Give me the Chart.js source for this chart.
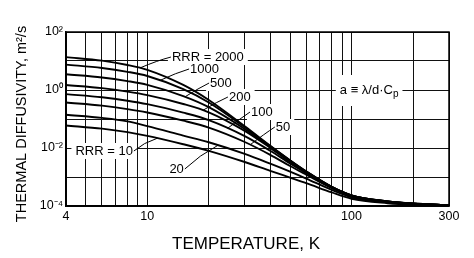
<!DOCTYPE html>
<html><head><meta charset="utf-8">
<script src="https://cdn.jsdelivr.net/npm/chart.js@4.4.1/dist/chart.umd.min.js"></script>
<style>html,body{margin:0;padding:0;background:#fff}#wrap{width:474px;height:258px}</style>
</head><body><div id="wrap"><canvas id="c" width="474" height="258"></canvas></div>
<script>
// Temperature, K
const temps = [4, 6, 8, 10, 15, 20, 30, 40, 50, 60, 80, 100, 150, 200, 300];
// Thermal diffusivity, m^2/s, one curve per RRR
const rrr2000 = [13.6, 10.3, 7.3, 4.98, 1.50, 0.454, 0.0562, 0.0120, 0.00378, 0.00156, 0.000458, 0.000232, 0.000145, 0.000122, 0.000107];
const rrr1000 = [7.5, 5.75, 4.23, 3.04, 1.068, 0.370, 0.0520, 0.01157, 0.00372, 0.00155, 0.000456, 0.000232, 0.000145, 0.000122, 0.000107];
const rrr500  = [3.5, 2.71, 2.03, 1.51, 0.618, 0.256, 0.0452, 0.0109, 0.00362, 0.00153, 0.000454, 0.000231, 0.000144, 0.000121, 0.000107];
const rrr200  = [1.49, 1.16, 0.879, 0.665, 0.329, 0.170, 0.0388, 0.0101, 0.00333, 0.00146, 0.000446, 0.000229, 0.000143, 0.000121, 0.000106];
const rrr100  = [0.72, 0.56, 0.426, 0.324, 0.166, 0.0918, 0.0258, 0.00803, 0.00295, 0.00136, 0.000434, 0.000226, 0.000142, 0.000120, 0.000106];
const rrr50   = [0.371, 0.289, 0.22, 0.168, 0.0878, 0.0504, 0.0161, 0.0058, 0.00239, 0.0012, 0.000412, 0.000219, 0.000140, 0.000119, 0.000105];
const rrr20   = [0.14, 0.109, 0.083, 0.0568, 0.0268, 0.0158, 0.00624, 0.00288, 0.00153, 0.000886, 0.000358, 0.000201, 0.000134, 0.000115, 0.000104];
const rrr10   = [0.06, 0.0465, 0.0353, 0.0262, 0.0135, 0.0080, 0.00329, 0.00163, 0.000955, 0.000616, 0.000293, 0.000178, 0.000125, 0.000110, 0.000102];
const seriesList = [rrr2000, rrr1000, rrr500, rrr200, rrr100, rrr50, rrr20, rrr10];
const seriesNames = ['RRR = 2000', '1000', '500', '200', '100', '50', '20', 'RRR = 10'];

// Axis ticks
const xTickValues = [4, 5, 6, 7, 8, 9, 10, 20, 30, 40, 50, 60, 70, 80, 90, 100, 200, 300];
const xTickLabels = ['4', '', '', '', '', '', '10', '', '', '', '', '', '', '', '', '100', '', '300'];
const yTickValues = [1e-4, 1e-3, 1e-2, 1e-1, 1, 10, 100];
const yTickLabels = ['10⁻⁴', '', '10⁻²', '', '10⁰', '', '10²'];

// Curve labels: anchor in data space, leader target temperature on its curve
const curveLabels = [
  {series: 0, t: 13.2, v: 13.7, align: 'left', to: 9.2},
  {series: 1, t: 16.2, v: 5.3, align: 'left', to: 11.5},
  {series: 2, t: 20.3, v: 1.74, align: 'left', to: 15.3},
  {series: 3, t: 25.1, v: 0.574, align: 'left', to: 18.7},
  {series: 4, t: 32.2, v: 0.174, align: 'left', to: 24.7},
  {series: 5, t: 42.6, v: 0.053, align: 'left', to: 31.9},
  {series: 6, t: 15.1, v: 0.00189, align: 'right', to: 22.2},
  {series: 7, t: 8.5, v: 0.00789, align: 'right', to: 11.2}
];
const formulaPos = {t: 87.6, v: 1.0};

const FONT = 'Arial, "Liberation Sans", Helvetica, sans-serif';

function valueAt(arr, T) {
  for (let i = 0; i < temps.length - 1; i++) {
    if (T >= temps[i] && T <= temps[i + 1]) {
      const f = Math.log(T / temps[i]) / Math.log(temps[i + 1] / temps[i]);
      return Math.exp(Math.log(arr[i]) + f * (Math.log(arr[i + 1]) - Math.log(arr[i])));
    }
  }
  return arr[arr.length - 1];
}

function labelGeom(ctx, xs, ys, L) {
  ctx.font = '13px ' + FONT;
  const text = seriesNames[L.series];
  const w = ctx.measureText(text).width;
  const px = xs.getPixelForValue(L.t);
  const py = ys.getPixelForValue(L.v);
  const left = L.align === 'left' ? px : px - w;
  return {text, w, px, py, left};
}

function formulaGeom(ctx, xs, ys) {
  const px = xs.getPixelForValue(formulaPos.t);
  const py = ys.getPixelForValue(formulaPos.v);
  ctx.font = '13px ' + FONT;
  const main = 'a ≡ λ/d·C';
  const w1 = ctx.measureText(main).width;
  ctx.font = '10px ' + FONT;
  const w2 = ctx.measureText('p').width;
  return {px, py, main, w1, w2};
}

const annot = {
  id: 'annot',
  beforeDatasetsDraw(chart) {
    const ctx = chart.ctx, xs = chart.scales.x, ys = chart.scales.y;
    ctx.save();
    ctx.fillStyle = '#fff';
    curveLabels.forEach(L => {
      const g = labelGeom(ctx, xs, ys, L);
      ctx.fillRect(g.left - 4, g.py - 8, g.w + 8, 16);
    });
    const f = formulaGeom(ctx, xs, ys);
    ctx.fillRect(f.px - 4, f.py - 15, f.w1 + f.w2 + 8, 31);
    ctx.restore();
  },
  afterDatasetsDraw(chart) {
    const ctx = chart.ctx, xs = chart.scales.x, ys = chart.scales.y;
    ctx.save();
    ctx.fillStyle = '#000';
    ctx.strokeStyle = '#000';
    ctx.lineWidth = 1;
    curveLabels.forEach(L => {
      const g = labelGeom(ctx, xs, ys, L);
      ctx.textBaseline = 'middle';
      ctx.textAlign = 'left';
      ctx.fillText(g.text, g.left, g.py);
      const sx = L.align === 'left' ? g.left - 1 : g.left + g.w + 1;
      const tx = xs.getPixelForValue(L.to);
      const ty = ys.getPixelForValue(valueAt(seriesList[L.series], L.to));
      ctx.beginPath();
      ctx.moveTo(sx, g.py);
      ctx.quadraticCurveTo((sx + tx) / 2 + (L.align === 'left' ? 2 : -2), (g.py + ty) / 2 - 2, tx, ty);
      ctx.stroke();
    });
    // formula
    const f = formulaGeom(ctx, xs, ys);
    ctx.textBaseline = 'middle';
    ctx.textAlign = 'left';
    ctx.font = '13px ' + FONT;
    ctx.fillText(f.main, f.px, f.py);
    ctx.font = '10px ' + FONT;
    ctx.fillText('p', f.px + f.w1, f.py + 4);
    // axis titles
    const ca = chart.chartArea;
    ctx.font = '17px ' + FONT;
    ctx.textAlign = 'center';
    ctx.textBaseline = 'middle';
    ctx.fillText('TEMPERATURE, K', ca.left + (ca.right - ca.left) * 0.47, 244);
    ctx.save();
    ctx.translate(22, (ca.top + ca.bottom) / 2 + 5);
    ctx.rotate(-Math.PI / 2);
    ctx.font = '14.5px ' + FONT;
    ctx.fillText('THERMAL DIFFUSIVITY, m²/s', 0, 0);
    ctx.restore();
    // frame
    ctx.lineWidth = 1.5;
    ctx.strokeRect(ca.left, ca.top, ca.right - ca.left, ca.bottom - ca.top);
    ctx.restore();
  }
};

const datasets = seriesList.map((arr, i) => ({
  label: seriesNames[i],
  data: temps.map((t, j) => ({x: t, y: arr[j]})),
  borderColor: '#000',
  borderWidth: 1.9,
  pointRadius: 0,
  fill: false,
  cubicInterpolationMode: 'monotone'
}));

new Chart(document.getElementById('c'), {
  type: 'line',
  data: {datasets},
  options: {
    responsive: false,
    animation: false,
    layout: {padding: {left: 0, right: 25, top: 32, bottom: 0}},
    plugins: {legend: {display: false}, tooltip: {enabled: false}},
    scales: {
      x: {
        type: 'logarithmic', min: 4, max: 300,
        afterBuildTicks: s => { s.ticks = xTickValues.map(v => ({value: v})); },
        afterFit: s => { s.height = 52; },
        ticks: {autoSkip: false, maxRotation: 0, minRotation: 0, padding: 3, color: '#000',
                font: {family: FONT, size: 12.5},
                callback: (v, i) => xTickLabels[i]},
        grid: {color: '#111', lineWidth: 1, drawTicks: false},
        border: {color: '#000', width: 1.5}
      },
      y: {
        type: 'logarithmic', min: 1e-4, max: 100,
        afterBuildTicks: s => { s.ticks = yTickValues.map(v => ({value: v})); },
        afterFit: s => { s.width = 66; },
        ticks: {autoSkip: false, padding: 3, color: '#000',
                font: {family: FONT, size: 12.5},
                callback: (v, i) => yTickLabels[i]},
        grid: {color: '#111', lineWidth: 1, drawTicks: false},
        border: {color: '#000', width: 1.5}
      }
    }
  },
  plugins: [annot]
});
</script>
</body></html>
